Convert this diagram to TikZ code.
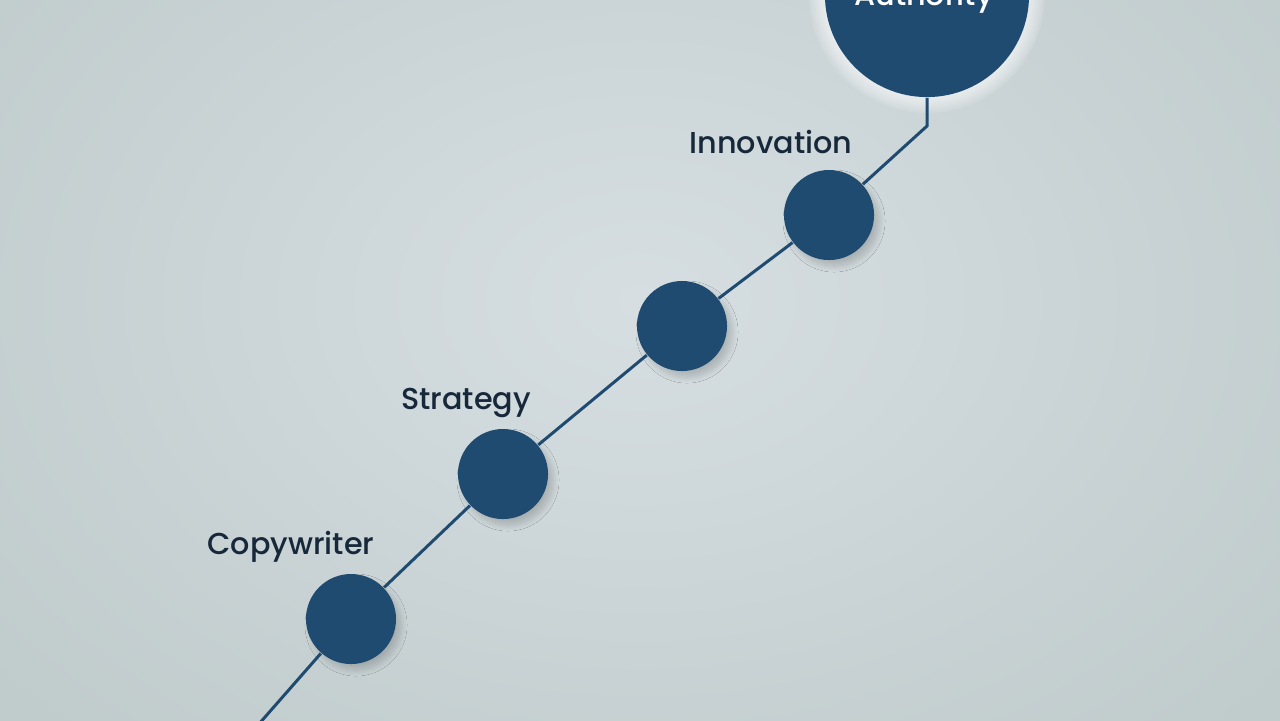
\documentclass[tikz,border=0pt]{standalone}
\usepackage{fontspec}
\setmainfont{Poppins}[UprightFont=* Medium]
\usetikzlibrary{shadows.blur}
\definecolor{navy}{HTML}{1F4B70}
\definecolor{inkdark}{HTML}{17283A}
\definecolor{bgedge}{HTML}{C0CBCC}
\definecolor{bgmid}{HTML}{D6DEE1}
\tikzset{
  stepdot/.style={circle, fill=navy, minimum size=0.9cm, inner sep=0pt,
    blur shadow={shadow xshift=0.05cm, shadow yshift=-0.06cm, shadow opacity=18,
      shadow blur radius=0.06cm, shadow blur steps=10}},
  steplabel/.style={text=inkdark, font=\fontsize{8.6}{10}\selectfont, anchor=base},
  pathline/.style={navy, line width=0.85pt}
}
\begin{document}
\begin{tikzpicture}[x=0.01cm, y=-0.01cm]
\clip (0,0) rectangle (1280,720);
\shade[inner color=bgmid, outer color=bgedge] (-200,-300) rectangle (1480,900);
% soft glow round the top circle
\foreach \r in {104,106,...,118}
  \fill[white, opacity=0.1] (927,-5) circle (\r);
\node[stepdot] (copy) at (351,619) {};
\node[stepdot] (strat) at (503,474) {};
\node[stepdot] (mid) at (682,326) {};
\node[stepdot] (innov) at (829,215) {};
\node[circle, fill=navy, minimum size=2.04cm, inner sep=0pt] (auth) at (927,-5) {};
\node[steplabel, text=white] (authtext) at (924,5) {Authority};
\node[steplabel] (copytext) at (291,554) {Copywriter};
\node[steplabel] (strattext) at (466,409) {Strategy};
\node[steplabel] (innovtext) at (771,153) {Innovation};
\coordinate (start) at (258,725);
\coordinate (bend) at (927,126);
\draw[pathline] (start) -- (copy);
\draw[pathline] (copy) -- (strat);
\draw[pathline] (strat) -- (mid);
\draw[pathline] (mid) -- (innov);
\draw[pathline] (innov) -- (bend) -- (auth);
\end{tikzpicture}
\end{document}
